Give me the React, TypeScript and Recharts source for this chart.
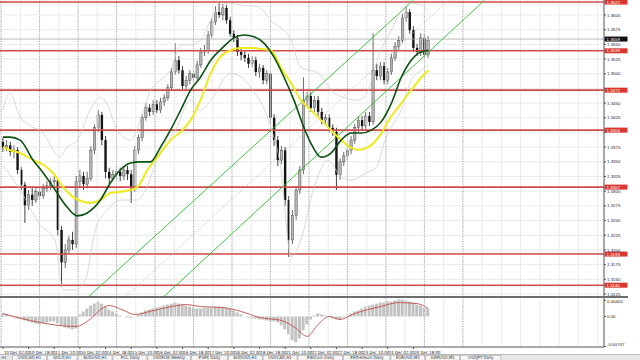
import React from 'react';
import { ComposedChart, Bar, Line, XAxis, YAxis, CartesianGrid, ReferenceLine } from 'recharts';

// H1 candles, [open, high, low, close]
const ohlc: [number, number, number, number][] = [
  [1.3384, 1.3391, 1.3367, 1.3374], [1.3374, 1.3387, 1.3368, 1.3378], [1.3378, 1.3384, 1.336, 1.3367],
  [1.3367, 1.3378, 1.3356, 1.337], [1.337, 1.3375, 1.3329, 1.3336], [1.3336, 1.3341, 1.3302, 1.3311],
  [1.3311, 1.3316, 1.3246, 1.3276], [1.3276, 1.3302, 1.3268, 1.3294], [1.3294, 1.3305, 1.3275, 1.3285],
  [1.3285, 1.3307, 1.328, 1.3299], [1.3299, 1.3309, 1.3285, 1.3292], [1.3292, 1.3312, 1.3287, 1.3305],
  [1.3305, 1.3317, 1.3299, 1.3309], [1.3309, 1.3322, 1.3302, 1.3316], [1.3316, 1.3326, 1.3309, 1.3319],
  [1.3319, 1.3322, 1.3225, 1.3234], [1.3234, 1.3241, 1.3137, 1.3179], [1.3179, 1.321, 1.3169, 1.32],
  [1.32, 1.3224, 1.3193, 1.3217], [1.3217, 1.3231, 1.32, 1.321], [1.321, 1.3326, 1.3203, 1.3316],
  [1.3316, 1.3336, 1.3305, 1.3326], [1.3326, 1.3333, 1.3302, 1.3312], [1.3312, 1.3333, 1.3305, 1.3322],
  [1.3322, 1.3377, 1.3317, 1.337], [1.337, 1.3414, 1.3363, 1.3408], [1.3408, 1.3438, 1.3401, 1.343],
  [1.343, 1.3435, 1.3378, 1.3387], [1.3387, 1.3394, 1.3322, 1.3333], [1.3333, 1.334, 1.3312, 1.3322],
  [1.3322, 1.3336, 1.3316, 1.3328], [1.3328, 1.3341, 1.3319, 1.3333], [1.3333, 1.334, 1.3317, 1.3326],
  [1.3326, 1.3343, 1.3319, 1.3336], [1.3336, 1.3343, 1.3319, 1.3329], [1.3329, 1.3336, 1.328, 1.3305],
  [1.3305, 1.3377, 1.3299, 1.337], [1.337, 1.3397, 1.3363, 1.3391], [1.3391, 1.3431, 1.3385, 1.3425],
  [1.3425, 1.345, 1.342, 1.3442], [1.3442, 1.3448, 1.3428, 1.3435], [1.3435, 1.3455, 1.343, 1.3448],
  [1.3448, 1.3455, 1.3433, 1.3438], [1.3438, 1.3459, 1.3433, 1.3452], [1.3452, 1.3465, 1.3445, 1.3459],
  [1.3459, 1.3482, 1.3454, 1.3476], [1.3476, 1.351, 1.3471, 1.3503], [1.3503, 1.3552, 1.3498, 1.3523],
  [1.3523, 1.353, 1.35, 1.3506], [1.3506, 1.3513, 1.3474, 1.3479], [1.3479, 1.3496, 1.3472, 1.3489],
  [1.3489, 1.3506, 1.3482, 1.35], [1.35, 1.3506, 1.3486, 1.3493], [1.3493, 1.3522, 1.3488, 1.3515],
  [1.3515, 1.3544, 1.351, 1.3537], [1.3537, 1.3549, 1.353, 1.354], [1.354, 1.3573, 1.3534, 1.3566],
  [1.3566, 1.3595, 1.3561, 1.3588], [1.3588, 1.3615, 1.3583, 1.3605], [1.3605, 1.362, 1.3595, 1.36],
  [1.36, 1.3619, 1.3591, 1.3612], [1.3612, 1.3617, 1.3585, 1.3591], [1.3591, 1.3597, 1.3563, 1.3568],
  [1.3568, 1.3574, 1.3554, 1.3561], [1.3561, 1.3566, 1.353, 1.3537], [1.3537, 1.3544, 1.3523, 1.3532],
  [1.3532, 1.3539, 1.352, 1.3527], [1.3527, 1.3534, 1.351, 1.3517], [1.3517, 1.353, 1.3511, 1.3523],
  [1.3523, 1.3529, 1.3496, 1.3503], [1.3503, 1.3517, 1.3493, 1.351], [1.351, 1.3515, 1.3482, 1.3489],
  [1.3489, 1.3506, 1.3482, 1.35], [1.35, 1.3503, 1.3414, 1.3425], [1.3425, 1.3431, 1.3377, 1.3387],
  [1.3387, 1.3394, 1.3343, 1.3353], [1.3353, 1.3377, 1.3346, 1.337], [1.337, 1.3375, 1.3275, 1.3285],
  [1.3285, 1.3292, 1.3188, 1.3217], [1.3217, 1.3268, 1.321, 1.3259], [1.3259, 1.3309, 1.3251, 1.3302],
  [1.3302, 1.3343, 1.3295, 1.3336], [1.3336, 1.3494, 1.3329, 1.3455], [1.3455, 1.3469, 1.3445, 1.3462],
  [1.3462, 1.3469, 1.3435, 1.3442], [1.3442, 1.3462, 1.3435, 1.3455], [1.3455, 1.3462, 1.3428, 1.3435],
  [1.3435, 1.3442, 1.3414, 1.3421], [1.3421, 1.3431, 1.3414, 1.3425], [1.3425, 1.3431, 1.3401, 1.3408],
  [1.3408, 1.3414, 1.3394, 1.3401], [1.3401, 1.3408, 1.3302, 1.3328], [1.3328, 1.3356, 1.3319, 1.335],
  [1.335, 1.3367, 1.3343, 1.336], [1.336, 1.3377, 1.3353, 1.337], [1.337, 1.3394, 1.3363, 1.3387],
  [1.3387, 1.3414, 1.338, 1.3408], [1.3408, 1.3428, 1.3401, 1.3421], [1.3421, 1.3428, 1.3404, 1.3411],
  [1.3411, 1.3435, 1.3404, 1.3428], [1.3428, 1.3435, 1.3411, 1.3418], [1.3418, 1.3569, 1.3413, 1.3506],
  [1.3506, 1.3517, 1.3489, 1.3496], [1.3496, 1.352, 1.3489, 1.3513], [1.3513, 1.352, 1.3482, 1.3489],
  [1.3489, 1.351, 1.3482, 1.3503], [1.3503, 1.3534, 1.3498, 1.3527], [1.3527, 1.3554, 1.3522, 1.3547],
  [1.3547, 1.3564, 1.354, 1.3557], [1.3557, 1.3602, 1.3552, 1.3595], [1.3595, 1.3614, 1.3588, 1.3605],
  [1.3605, 1.361, 1.3568, 1.3574], [1.3574, 1.3581, 1.3537, 1.3544], [1.3544, 1.3551, 1.353, 1.3537],
  [1.3537, 1.3569, 1.353, 1.3561], [1.3561, 1.3568, 1.3527, 1.3532], [1.3532, 1.3564, 1.3527, 1.3557],
];

// moving averages and bands as [bar, price]
const greenMa: [number, number][] = [
  [0, 1.3392], [1.9, 1.3392], [4.7, 1.3387], [8.2, 1.3353], [11, 1.3331], [13.7, 1.3307], [17.5, 1.3273],
  [20.3, 1.3258], [23, 1.3263], [26.6, 1.3285], [29.3, 1.3314], [32, 1.3336], [34.8, 1.3348], [37.5, 1.335],
  [40.3, 1.335], [43, 1.3375], [45.7, 1.3404], [48.5, 1.3438], [51.2, 1.3472], [53.9, 1.3494], [56.7, 1.3523],
  [60.2, 1.3546], [63, 1.3561], [65.7, 1.3566], [68.5, 1.3563], [71.2, 1.3552], [73.9, 1.3529], [76.7, 1.3494],
  [79.4, 1.3455], [82.1, 1.3409], [84, 1.3382], [86.8, 1.3358], [89.5, 1.3365], [92.3, 1.3387], [95, 1.3399],
  [97.8, 1.3399], [100.5, 1.3404], [103.2, 1.3418], [106, 1.345], [108.7, 1.3494], [111.4, 1.3523],
  [113.4, 1.3535], [116.1, 1.354],
];
const yellowMa: [number, number][] = [
  [0, 1.3375], [1.9, 1.337], [4.7, 1.3365], [8.2, 1.3353], [11, 1.3345], [13.7, 1.3331], [16.4, 1.3307],
  [19.2, 1.329], [21.9, 1.3282], [23.8, 1.328], [26.6, 1.3285], [29.3, 1.3297], [32, 1.3299], [34.8, 1.3302],
  [36.7, 1.3307], [39.4, 1.3336], [43, 1.3365], [45.7, 1.3387], [48.5, 1.3401], [51.2, 1.3421], [53.9, 1.3455],
  [56.7, 1.3501], [59.4, 1.3529], [62.2, 1.354], [64.9, 1.3544], [67.6, 1.3544], [70.4, 1.3542], [73.1, 1.354],
  [75.8, 1.3511], [78.6, 1.3484], [81.3, 1.3455], [84, 1.3438], [86.8, 1.3421], [89.5, 1.3404], [92.3, 1.3387],
  [95, 1.3374], [96.9, 1.337], [99.7, 1.3375], [102.4, 1.3391], [106, 1.3428], [108.7, 1.345], [111.4, 1.3472],
  [114.2, 1.3494], [116.1, 1.3506],
];
const upperBand: [number, number][] = [
  [0, 1.3438], [1.9, 1.3467], [4.7, 1.3426], [8.2, 1.3409], [11, 1.3399], [13.7, 1.337], [15.6, 1.3358],
  [17.5, 1.3375], [20.3, 1.3387], [23.8, 1.3438], [26.6, 1.346], [28.5, 1.3447], [31.2, 1.3404], [34.8, 1.3387],
  [37.5, 1.3421], [40.3, 1.3472], [43, 1.3489], [45.7, 1.3506], [48.5, 1.3549], [51.2, 1.3549], [53.9, 1.3557],
  [56.7, 1.3591], [59.4, 1.3617], [62.2, 1.362], [64.9, 1.3617], [69.6, 1.3614], [73.1, 1.3591], [78.6, 1.3557],
  [81.3, 1.3511], [86, 1.3501], [90.4, 1.3467], [96.9, 1.3455], [99.7, 1.3472], [102.4, 1.3529], [106, 1.3574],
  [108.7, 1.3608], [111.4, 1.362], [114.2, 1.3617], [116, 1.3608],
];
const lowerBand: [number, number][] = [
  [0, 1.3345], [4.7, 1.3302], [10.1, 1.3243], [14.2, 1.3217], [16.4, 1.3132], [19.7, 1.3132], [22.5, 1.3149],
  [25.2, 1.3234], [28.5, 1.3268], [32, 1.3285], [36.7, 1.3285], [38.9, 1.3302], [43, 1.337], [47.1, 1.3404],
  [51.2, 1.3455], [53.9, 1.3438], [56.7, 1.3455], [62.2, 1.3501], [67.6, 1.3477], [73.1, 1.3409], [75.8, 1.3341],
  [78.6, 1.3188], [81.3, 1.3217], [84.9, 1.3307], [88.7, 1.3353], [92.3, 1.3324], [95, 1.3319], [99.1, 1.3331],
  [101.9, 1.3341], [104, 1.3382], [106, 1.3409], [108.7, 1.3438], [111.4, 1.3489], [114.2, 1.3506], [116, 1.3515],
];

// trend channel drawn on the chart
const channelA: [number, number][] = [[23.3, 1.312], [112, 1.3625]];
const channelB: [number, number][] = [[43.8, 1.312], [131.4, 1.3625]];
const channelMid: [number, number][] = [[33.4, 1.312], [121.6, 1.3625]];

const levels = [1.3622, 1.3539, 1.3472, 1.3404, 1.3307, 1.3193, 1.314];
const bid = 1.3559;
const priceTicks = [
  1.3125, 1.315, 1.3175, 1.32, 1.3225, 1.325, 1.3275, 1.33, 1.3325, 1.335,
  1.3375, 1.34, 1.3425, 1.345, 1.3475, 1.35, 1.3525, 1.355, 1.3575, 1.36,
];

// MACD histogram, one per candle, and its signal line
const macdHist = [
  0.00074, 0.00049, 0.00025, -0.00025, -0.00049, -0.00074, -0.00099, -0.00124, -0.00148, -0.00173,
  -0.00198, -0.00173, -0.00148, -0.00124, -0.00124, -0.00173, -0.00222, -0.00272, -0.00296, -0.00321,
  -0.00296, 0.00049, 0.00124, 0.00198, 0.00272, 0.00321, 0.00371, 0.00321, 0.00247, 0.00173,
  0.00124, 0.00074, 0.00025, 0, -0.00025, -0.00025, 0, 0.00049, 0.00099, 0.00148,
  0.00173, 0.00198, 0.00222, 0.00247, 0.00272, 0.00296, 0.00321, 0.00346, 0.00321, 0.00296,
  0.00272, 0.00247, 0.00222, 0.00198, 0.00198, 0.00222, 0.00222, 0.00222, 0.00247, 0.00247,
  0.00222, 0.00222, 0.00198, 0.00148, 0.00099, 0.00049, 0, -0.00025, -0.00049, -0.00049,
  -0.00074, -0.00074, -0.00099, -0.00124, -0.00124, -0.00148, -0.00222, -0.00321, -0.00445, -0.00593,
  -0.00642, -0.00543, -0.00346, -0.00198, -0.00074, 0.00025, 0.00074, 0.00049, 0.00025, 0,
  -0.00049, -0.00074, -0.00074, -0.00025, 0.00025, 0.00074, 0.00124, 0.00148, 0.00198, 0.00247,
  0.00272, 0.00296, 0.00321, 0.00346, 0.00346, 0.00371, 0.00371, 0.00395, 0.0042, 0.0042,
  0.00395, 0.00371, 0.00346, 0.00296, 0.00272, 0.00222, 0.00198,
];
const macdSignal: [number, number][] = [
  [0, 0.00074], [5, -0.00049], [10, -0.00148], [15, -0.00222], [20, -0.00247], [24, -0.00049], [27, 0.00198],
  [29, 0.00272], [33, 0.00148], [36, 0.00049], [40, 0.00124], [46, 0.00247], [50, 0.00296], [54, 0.00247],
  [60, 0.00222], [65, 0.00124], [70, -0.00025], [76, -0.00099], [80, -0.00296], [83, -0.00494], [86, -0.00198],
  [89, 0], [92, -0.00074], [96, 0.00074], [103, 0.00247], [108, 0.00346], [113, 0.00321], [116, 0.00198],
];
const macdTicks = [0.00402, 0, -0.00747];

const timeLabels = [
  '10 Dec 02:00', '10 Dec 18:00', '11 Dec 10:00', '14 Dec 02:00', '14 Dec 18:00', '15 Dec 10:00',
  '16 Dec 02:00', '16 Dec 18:00', '17 Dec 10:00', '18 Dec 02:00', '18 Dec 18:00', '21 Dec 10:00',
  '22 Dec 02:00', '22 Dec 18:00', '23 Dec 10:00', '24 Dec 02:00', '24 Dec 18:00',
];
const labelStep = 7; // bars between time labels
const barsPerDay = 10.5;
const tabs = [
  'USDCAD,H1', 'GOLD,H1', 'AUDUSD,H1', '#CL Daily', 'USDRUB Weekly', '#SPX Daily', 'AUDUSD,H1',
  'USDCAD,H1', '#Bitcoin Daily', '#Ethereum Daily', 'EURUSD,M5', 'GBPUSD,M5', 'USDJPY Daily',
];

const FONT = '"Liberation Sans", Arial, sans-serif';
const NARROW = '"Liberation Sans Narrow", "DejaVu Sans Condensed", "Liberation Sans", sans-serif';
const X_DOMAIN: [number, number] = [-0.8, 164];
const Y_DOMAIN: [number, number] = [1.31199, 1.36255];

const candleData = ohlc.map(([o, h, l, c], i) => ({ i, o, h, l, c, range: [l, h] }));
const pts = (arr: [number, number][]) => arr.map(([i, v]) => ({ i, v }));
const macdData = macdHist.map((v, i) => ({ i, v }));
const timeTicks = timeLabels.map((_, k) => k * labelStep);
const gridX = Array.from({ length: 32 }, (_, k) => -0.5 + (barsPerDay / 2) * k);
const daySeps = Array.from({ length: 13 }, (_, k) => -0.5 + barsPerDay * k);

const Candle = (p: any) => {
  const { x, y, width, height, payload } = p;
  if (!payload || height == null) return null;
  const top = Math.min(y, y + height);
  const span = Math.abs(height);
  const k = span / (payload.h - payload.l || 1);
  const yo = top + (payload.h - payload.o) * k;
  const yc = top + (payload.h - payload.c) * k;
  const cx = x + width / 2;
  const up = payload.c >= payload.o;
  return (
    <g>
      <line x1={cx} x2={cx} y1={top} y2={top + span} stroke={up ? '#4a4a4a' : '#111'} strokeWidth={0.8} />
      <rect
        x={cx - 1.2}
        width={2.4}
        y={Math.min(yo, yc)}
        height={Math.max(0.8, Math.abs(yo - yc))}
        fill={up ? '#b4b4b4' : '#141414'}
        stroke={up ? '#3a3a3a' : 'none'}
        strokeWidth={0.4}
      />
    </g>
  );
};

const PriceTag = ({ viewBox, text, bg }: any) => {
  if (!viewBox) return null;
  const x = viewBox.x + viewBox.width;
  const y = viewBox.y;
  return (
    <g>
      <rect x={x + 0.5} y={y - 2.5} width={23} height={5} fill={bg} />
      <text x={x + 2.5} y={y + 1.6} fontSize={4.4} fontFamily={FONT} fill="#fff">{text}</text>
    </g>
  );
};

// price labels hidden by a level tag on the axis are not drawn
const PriceTick = ({ x, y, payload }: any) => {
  const v = payload.value;
  if (levels.some((lv) => Math.abs(lv - v) < 0.0004)) return null;
  return (
    <text x={x} y={y + 1.6} fontSize={4.4} fontFamily={FONT} fill="#222">{v.toFixed(4)}</text>
  );
};

const TimeTick = ({ x, y, payload }: any) => {
  const idx = Math.round(payload.value / labelStep);
  return (
    <text x={x + 1} y={y + 3.2} fontSize={4.3} fontFamily={NARROW} fill="#222" textAnchor="start">
      {timeLabels[idx]}
    </text>
  );
};

const MacdTick = ({ x, y, payload }: any) => {
  const v = payload.value;
  const label = v === 0 ? '0.00' : v.toFixed(5);
  const dy = v < 0 ? -2 : v > 0 ? 1.5 : 0;
  return (
    <text x={x} y={y + dy + 1.6} fontSize={4.4} fontFamily={FONT} fill="#222">{label}</text>
  );
};

export default function App() {
  let tabX = 12;
  const tabBoxes = tabs.map((t) => {
    const w = t.length * 2.1 + 16;
    const box = { t, x: tabX, w };
    tabX += w;
    return box;
  });
  return (
    <div style={{ position: 'fixed', left: 0, top: 0, width: 640, height: 360, background: '#fff', overflow: 'hidden' }}>
      <div style={{ position: 'absolute', left: 0, top: 0 }}>
        <ComposedChart width={640} height={297} data={candleData} margin={{ top: 0, right: 0, bottom: 0, left: 0 }}>
          <CartesianGrid vertical={false} stroke="#e6e6e6" strokeWidth={0.8} />
          <XAxis dataKey="i" type="number" domain={X_DOMAIN} allowDataOverflow hide />
          <YAxis
            orientation="right"
            width={36}
            domain={Y_DOMAIN}
            allowDataOverflow
            ticks={priceTicks}
            tick={<PriceTick />}
            tickSize={2}
            tickMargin={1}
            axisLine={{ stroke: '#555' }}
            tickLine={{ stroke: '#555' }}
            interval={0}
          />
          {gridX.map((gx) => (
            <ReferenceLine key={'g' + gx} x={gx} stroke="#e6e6e6" strokeWidth={0.8} />
          ))}
          {daySeps.map((dx) => (
            <ReferenceLine key={'d' + dx} x={dx} stroke="#8a8a8a" strokeWidth={0.7} strokeDasharray="1 1.5" />
          ))}
          <ReferenceLine y={bid} stroke="#a8a8a8" strokeWidth={0.8} label={<PriceTag text={bid.toFixed(4)} bg="#111" />} />
          {levels.map((lv) => (
            <ReferenceLine
              key={'l' + lv}
              y={lv}
              stroke="#cf4a4a"
              strokeWidth={1.6}
              label={<PriceTag text={lv.toFixed(4)} bg="#d9362f" />}
            />
          ))}
          <ReferenceLine
            segment={channelMid.map(([x, y]) => ({ x, y }))}
            stroke="#b4b4b4"
            strokeWidth={0.7}
            strokeDasharray="1.5 1.5"
            ifOverflow="hidden"
          />
          <ReferenceLine segment={channelA.map(([x, y]) => ({ x, y }))} stroke="#2fbd2f" strokeWidth={0.9} ifOverflow="hidden" />
          <ReferenceLine segment={channelB.map(([x, y]) => ({ x, y }))} stroke="#2fbd2f" strokeWidth={0.9} ifOverflow="hidden" />
          <Line data={pts(upperBand)} dataKey="v" type="monotone" stroke="#c9c9c9" strokeWidth={0.7} dot={false} activeDot={false} isAnimationActive={false} />
          <Line data={pts(lowerBand)} dataKey="v" type="monotone" stroke="#c9c9c9" strokeWidth={0.7} dot={false} activeDot={false} isAnimationActive={false} />
          <Bar dataKey="range" barSize={3} shape={Candle} activeBar={false} isAnimationActive={false} />
          <Line data={pts(yellowMa)} dataKey="v" type="monotone" stroke="#eeea1e" strokeWidth={2} dot={false} activeDot={false} isAnimationActive={false} />
          <Line data={pts(greenMa)} dataKey="v" type="monotone" stroke="#0a5010" strokeWidth={1.6} dot={false} activeDot={false} isAnimationActive={false} />
        </ComposedChart>
      </div>
      <div style={{ position: 'absolute', left: 0, top: 296, width: 628, height: 2, background: '#6e6e6e' }} />
      <div style={{ position: 'absolute', left: 0, top: 298 }}>
        <ComposedChart width={640} height={56} data={macdData} margin={{ top: 0, right: 0, bottom: 0, left: 0 }}>
          <XAxis
            dataKey="i"
            type="number"
            domain={X_DOMAIN}
            allowDataOverflow
            ticks={timeTicks}
            interval={0}
            height={7}
            tick={<TimeTick />}
            tickSize={2}
            axisLine={{ stroke: '#555' }}
            tickLine={{ stroke: '#555' }}
          />
          <YAxis
            orientation="right"
            width={36}
            domain={[-0.0076, 0.0046]}
            allowDataOverflow
            ticks={macdTicks}
            interval={0}
            tick={<MacdTick />}
            tickSize={2}
            tickMargin={1}
            axisLine={{ stroke: '#555' }}
            tickLine={{ stroke: '#555' }}
          />
          {gridX.map((gx) => (
            <ReferenceLine key={'mg' + gx} x={gx} stroke="#e6e6e6" strokeWidth={0.8} />
          ))}
          {daySeps.map((dx) => (
            <ReferenceLine key={'md' + dx} x={dx} stroke="#8a8a8a" strokeWidth={0.7} strokeDasharray="1 1.5" />
          ))}
          <Bar dataKey="v" fill="#c2c2c2" barSize={3} activeBar={false} isAnimationActive={false} />
          <Line data={pts(macdSignal)} dataKey="v" type="monotone" stroke="#c0504a" strokeWidth={0.9} dot={false} activeDot={false} isAnimationActive={false} />
        </ComposedChart>
      </div>
      <svg style={{ position: 'absolute', left: 0, top: 354 }} width={640} height={6}>
        <rect x={0} y={0} width={640} height={6} fill="#e6e6e6" />
        <line x1={0} x2={640} y1={0.5} y2={0.5} stroke="#a0a0a0" strokeWidth={0.6} />
        <text x={1.5} y={4.6} fontSize={4} fontFamily={NARROW} fill="#333">H1</text>
        {tabBoxes.map((b, k) => (
          <g key={k}>
            <rect x={b.x + 0.5} y={1.2} width={b.w - 1} height={5} fill="#f7f7f7" stroke="#9a9a9a" strokeWidth={0.5} />
            <text x={b.x + b.w / 2} y={4.8} fontSize={4.4} fontFamily={NARROW} fill="#333" textAnchor="middle">{b.t}</text>
          </g>
        ))}
      </svg>
    </div>
  );
}
